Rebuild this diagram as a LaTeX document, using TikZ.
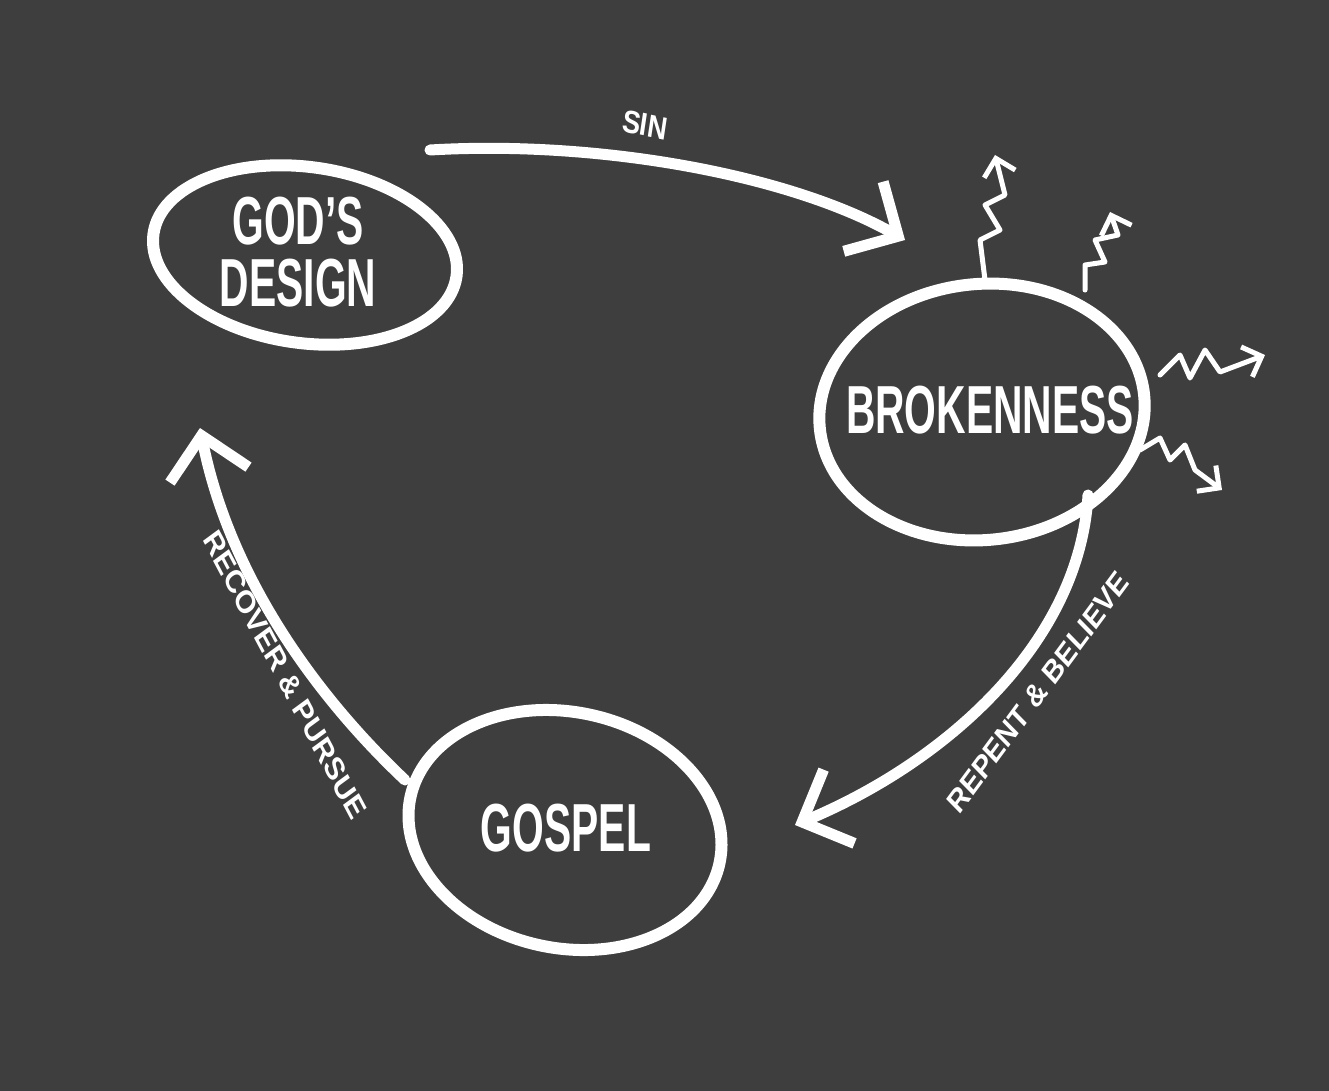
\documentclass[tikz,border=0pt]{standalone}
\usepackage{fontspec}
\setmainfont{Liberation Sans}
\usetikzlibrary{arrows.meta}
\definecolor{bg}{HTML}{3E3E3E}
\begin{document}
\begin{tikzpicture}[x=1pt,y=-1pt,
  ring/.style={draw=white,line width=12pt,line cap=round},
  conn/.style={draw=white,line width=11pt,line cap=round,-{Straight Barb[length=40pt,width=80pt,line width=11pt]}},
  zig/.style={draw=white,line width=5pt,line cap=round,line join=round,-{Straight Barb[length=16pt,width=32pt,line width=5pt]}},
  title/.style={text=white,font=\bfseries\fontsize{68}{62}\selectfont,align=center,xscale=0.6},
  lab/.style={text=white,font=\bfseries\fontsize{32}{34}\selectfont,xscale=0.85}]
\fill[bg] (0,0) rectangle (1329,1091);
\useasboundingbox (0,0) rectangle (1329,1091);
% ellipses
\draw[ring,rotate around={-8:(305,255)}] (305,255) ellipse [x radius=153, y radius=88];
\draw[ring,rotate around={6:(982,412)}] (982,412) ellipse [x radius=163, y radius=128];
\draw[ring,rotate around={-12:(565,830)}] (565,830) ellipse [x radius=158, y radius=118];
\node[title] (gd) at (298,252) {GOD’S\\DESIGN};
\node[title] (br) at (990,410) {BROKENNESS};
\node[title] (gs) at (566,828) {GOSPEL};
% connectors
\coordinate (s1) at (430,150);
\coordinate (s2) at (905,240);
\draw[conn] (s1) .. controls (600,140) and (790,175) .. (s2);
\coordinate (r1) at (1088,495);
\coordinate (r2) at (795,825);
\draw[conn] (r1) .. controls (1080,640) and (950,760) .. (r2);
\coordinate (p1) at (405,780);
\coordinate (p2) at (200,428);
\draw[conn] (p1) .. controls (320,700) and (230,580) .. (p2);
% labels
\node[lab,rotate=-10] (sin) at (645,125) {SIN};
\node[lab,rotate=-58] (rp) at (285,675) {RECOVER \& PURSUE};
\node[lab,rotate=49] (rb) at (1038,692) {REPENT \& BELIEVE};
% squiggles
\draw[zig] (985,280) -- (980,240) -- (1000,230) -- (985,205) -- (1005,195) -- (995,155);
\draw[zig] (1085,290) -- (1085,265) -- (1105,262) -- (1095,240) -- (1118,235) -- (1110,212);
\draw[zig] (1160,375) -- (1180,355) -- (1190,378) -- (1205,350) -- (1220,372) -- (1265,355);
\draw[zig] (1140,450) -- (1160,438) -- (1170,460) -- (1185,445) -- (1195,470) -- (1222,490);
\end{tikzpicture}
\end{document}
